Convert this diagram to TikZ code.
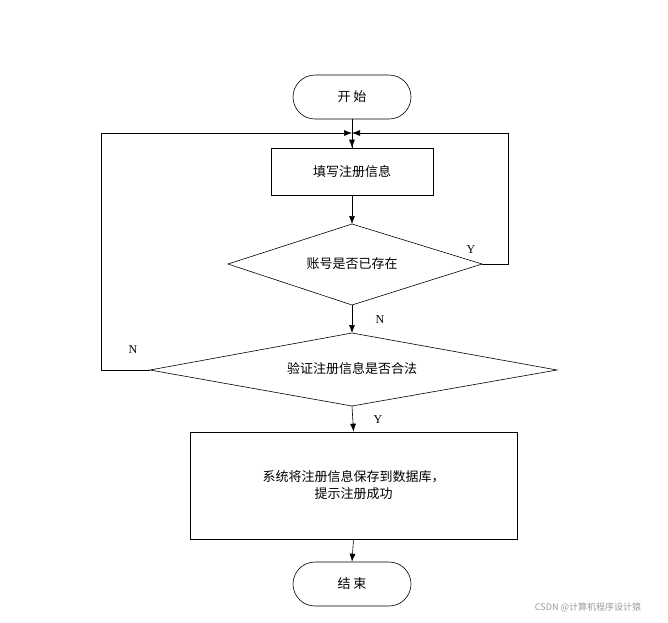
\documentclass[tikz,border=0pt]{standalone}
\usepackage{fontspec}
\setmainfont{Liberation Serif}
\newfontfamily\cjk{Noto Sans CJK SC}
\usetikzlibrary{shapes.geometric,arrows.meta}
\begin{document}
\begin{tikzpicture}[x=1pt,y=-1pt,
  base/.style={draw,line width=0.6pt,font=\cjk\fontsize{13}{17}\selectfont,inner sep=0pt},
  term/.style={base,rounded corners=22pt,minimum width=118pt,minimum height=44pt},
  proc/.style={base,rectangle},
  dec/.style={base,diamond,aspect=3},
  arr/.style={line width=0.6pt,-{Latex[length=8pt,width=6pt]}},
  lbl/.style={font=\fontsize{12}{14}\selectfont}]
\useasboundingbox (0,0) rectangle (668,622);
\node[term] (start) at (352,97) {开\ 始};
\node[proc,minimum width=162pt,minimum height=47pt] (fill) at (352,171.5) {填写注册信息};
\path[draw,line width=0.6pt] (228,264) coordinate (d1l) -- (352,224) coordinate (d1t) -- (482,264) coordinate (d1r) -- (352,305) coordinate (d1b) -- cycle;
\node[font=\cjk\fontsize{13}{17}\selectfont] (d1) at (352,264) {账号是否已存在};
\path[draw,line width=0.6pt] (150,370) coordinate (d2l) -- (352,333) coordinate (d2t) -- (557,370) coordinate (d2r) -- (352,406) coordinate (d2b) -- cycle;
\node[font=\cjk\fontsize{13}{17}\selectfont] (d2) at (352,369) {验证注册信息是否合法};
\node[proc,minimum width=327pt,minimum height=107pt,align=center] (save) at (353.5,485.5) {系统将注册信息保存到数据库，\\提示注册成功};
\node[term] (end) at (352,584) {结\ 束};
\coordinate (j) at (352,133);
\draw[line width=0.6pt] (start.south) -- (fill.north);
\draw[arr] (j) -- (fill.north);
\draw[arr] (fill.south) -- (d1t);
\draw[arr] (d1b) -- (d2t);
\draw[arr] (d2b) -- (save.north);
\draw[arr] (save.south) -- (end.north);
\draw[arr] (d1r) -- (508,264) -- (508,133) -- (j);
\draw[arr] (d2l) -- (101,370) -- (101,133) -- (j);
\node[lbl] (y1) at (471,250) {Y};
\node[lbl] (n1) at (380,320) {N};
\node[lbl] (n2) at (133,350) {N};
\node[lbl] (y2) at (378,420) {Y};
\node[font=\cjk\fontsize{9}{11}\selectfont,text=gray!80] (wm) at (588,607) {CSDN @计算机程序设计猿};
\end{tikzpicture}
\end{document}
